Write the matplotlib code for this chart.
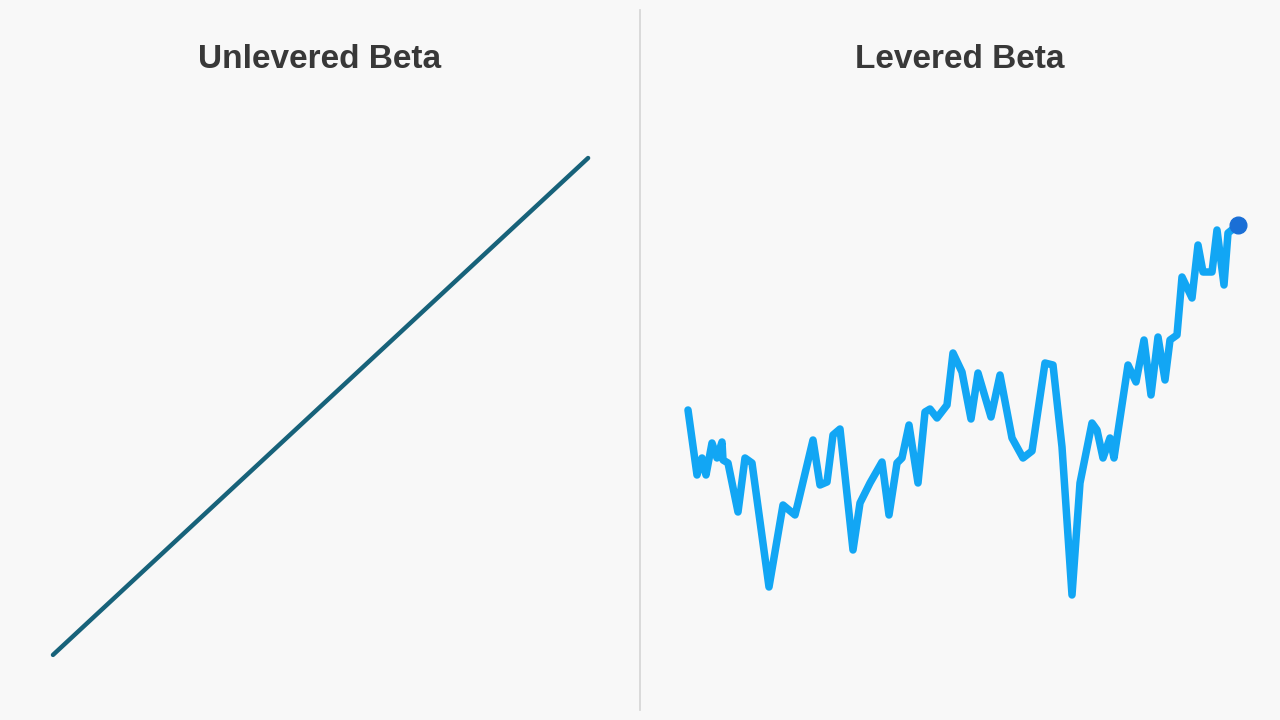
import matplotlib
matplotlib.use('Agg')
import matplotlib.pyplot as plt
from matplotlib.lines import Line2D

# 레버리지 없는 베타: 직선 (시작, 끝)
unlevered_x = [0.0, 1.0]
unlevered_y = [0.0, 1.0]

# 레버리지 베타: 시간에 따른 변동
levered_t = [0, 9, 14, 18, 24, 29, 34, 35, 40, 50,
             57, 64, 81, 95, 107, 110, 125, 132, 139, 145,
             152, 165, 172, 182, 194, 201, 209, 214, 221, 230,
             237, 242, 249, 259, 265, 274, 283, 290, 303, 312,
             324, 335, 344, 357, 365, 374, 384, 392, 404, 409,
             415, 422, 426, 440, 448, 456, 463, 470, 477, 482,
             489, 494, 504, 510, 515, 524, 529, 536, 540, 550]
levered_b = [1.55, 1.225, 1.31, 1.225, 1.385, 1.31, 1.39, 1.30, 1.285, 1.04,
             1.31, 1.285, 0.665, 1.075, 1.025, 1.085, 1.40, 1.175, 1.19, 1.425,
             1.455, 0.85, 1.085, 1.185, 1.29, 1.025, 1.285, 1.31, 1.475, 1.185,
             1.54, 1.555, 1.51, 1.575, 1.835, 1.74, 1.505, 1.735, 1.515, 1.725,
             1.41, 1.31, 1.345, 1.785, 1.775, 1.365, 0.625, 1.185, 1.485, 1.45,
             1.31, 1.41, 1.31, 1.775, 1.69, 1.90, 1.625, 1.915, 1.70, 1.90,
             1.925, 2.215, 2.11, 2.375, 2.24, 2.24, 2.45, 2.175, 2.435, 2.475]

titles = ['Unlevered Beta', 'Levered Beta']

bg = '#f8f8f8'
fig = plt.figure(figsize=(12.8, 7.2), dpi=100, facecolor=bg)

# 왼쪽 패널
ax1 = fig.add_axes([0, 0, 0.5, 1])
ax1.plot(unlevered_x, unlevered_y, color='#17627a', lw=3.2, solid_capstyle='round')
ax1.set_xlim(-0.099, 1.097)
ax1.set_ylim(-0.131, 1.318)
ax1.axis('off')

# 오른쪽 패널
ax2 = fig.add_axes([0.5, 0, 0.5, 1])
ax2.plot(levered_t, levered_b, color='#12a6f4', lw=5.4,
         solid_joinstyle='round', solid_capstyle='round')
ax2.plot(levered_t[-1], levered_b[-1], 'o', color='#1a6fd6', ms=12, zorder=3)
ax2.set_xlim(-48, 592)
ax2.set_ylim(0, 3.6)
ax2.axis('off')

# 가운데 구분선
fig.add_artist(Line2D([0.5, 0.5], [0.014, 0.986], transform=fig.transFigure,
                      color='#d4d4d4', lw=1.2))

for i, t in enumerate(titles):
    fig.text(0.25 + 0.5 * i, 1 - 60 / 720, t, ha='center', va='center',
             fontsize=24, fontweight='bold', family='Liberation Sans', color='#383838')

fig.savefig('out.png', dpi=100, facecolor=bg)
